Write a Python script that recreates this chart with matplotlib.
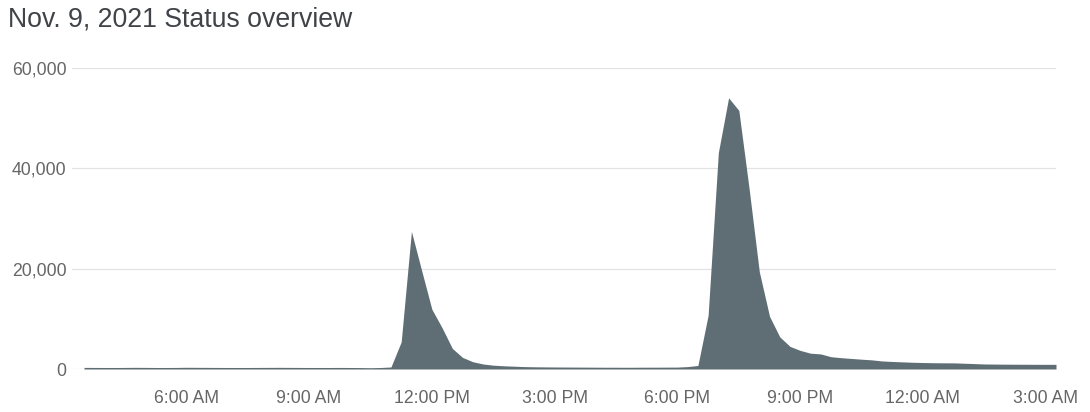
import numpy as np
import pandas as pd
import matplotlib
matplotlib.use("Agg")
from matplotlib import pyplot as plt
from matplotlib.ticker import FuncFormatter

# status counts in 15 minute buckets, starting 3:30 AM on Nov. 9
start = "2021-11-09 03:30"
counts = [
    320, 310, 300, 300, 310, 330, 320, 300, 300, 310,
    340, 330, 320, 310, 300, 300, 300, 310, 320, 330,
    320, 310, 300, 300, 300, 310, 300, 290, 260, 300,
    400, 5400, 27400, 19600, 11900, 8200, 4100, 2300, 1450, 1000,
    760, 640, 560, 480, 440, 420, 400, 390, 380, 370,
    360, 350, 350, 340, 350, 360, 360, 370, 380, 480,
    700, 10700, 43100, 54000, 51500, 36000, 19400, 10500, 6400, 4500,
    3700, 3150, 3000, 2450, 2250, 2100, 1950, 1820, 1600, 1500,
    1420, 1340, 1290, 1250, 1230, 1220, 1150, 1080, 1000, 980,
    960, 950, 940, 930, 930, 930,
]

tick_times = pd.date_range("2021-11-09 06:00", periods=8, freq="3h")
tick_labels = ["6:00 AM", "9:00 AM", "12:00 PM", "3:00 PM",
               "6:00 PM", "9:00 PM", "12:00 AM", "3:00 AM"]
y_ticks = [0, 20000, 40000, 60000]

title = "Nov. 9, 2021 Status overview"

plt.rcParams["font.family"] = ["Liberation Sans", "DejaVu Sans"]

times = pd.date_range(start, periods=len(counts), freq="15min").to_numpy()

fig = plt.figure(figsize=(10.9, 4.12), dpi=100)
ax = fig.add_axes([72 / 1090, 43 / 412, 984 / 1090, 301.3 / 412])

ax.fill_between(times, counts, 0, color="#5f6e75", linewidth=0)

ax.set_ylim(0, 60000)
ax.set_xlim(times[0] - np.timedelta64(1056, "s"), times[-1])

ax.set_yticks(y_ticks)
ax.yaxis.set_major_formatter(FuncFormatter(lambda v, _: f"{int(v):,}"))
ax.set_xticks(tick_times.to_numpy(), tick_labels)

ax.grid(axis="y", color="#e2e2e2", linewidth=0.9)
ax.set_axisbelow(True)
for spine in ax.spines.values():
    spine.set_visible(False)

ax.tick_params(axis="y", length=0, pad=3.8, labelsize=12.7, labelcolor="#666666")
ax.tick_params(axis="x", length=0, pad=14.8, labelsize=12.7, labelcolor="#666666")

fig.text(8 / 1090, 1 - 26.7 / 412, title, fontsize=19.2, color="#404448",
         ha="left", va="baseline")

fig.savefig("out.png", dpi=100)
